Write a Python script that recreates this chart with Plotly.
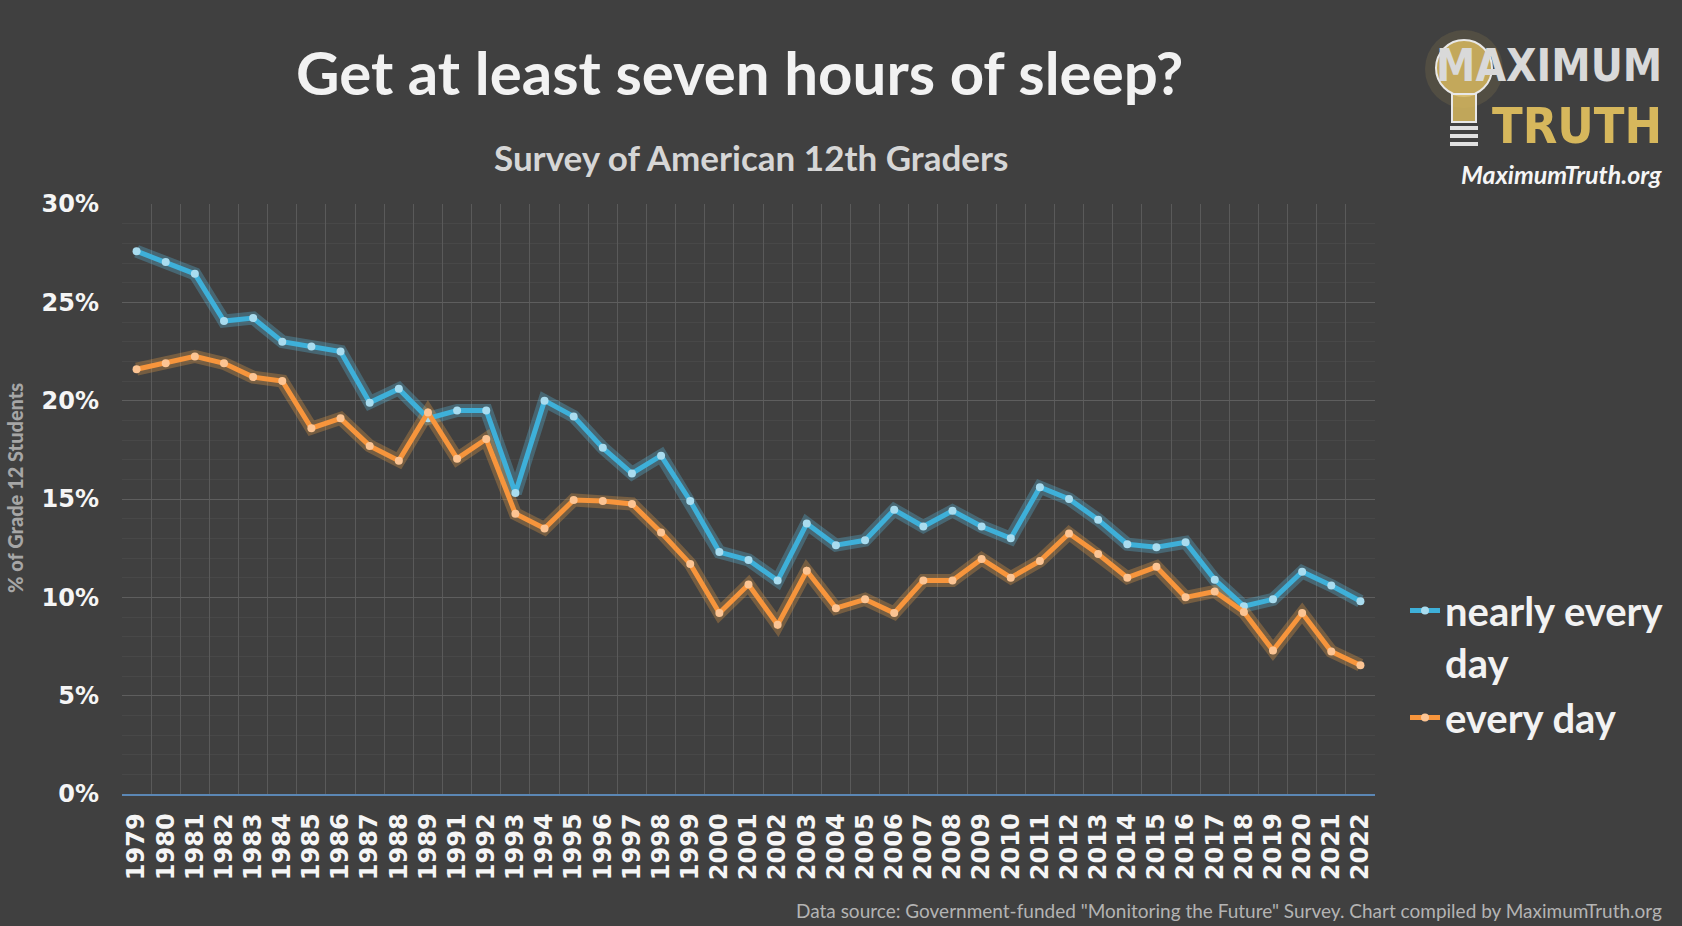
import plotly.graph_objects as go

years = ["1979", "1980", "1981", "1982", "1983", "1984", "1985", "1986", "1987", "1988", "1989",
         "1991", "1992", "1993", "1994", "1995", "1996", "1997", "1998", "1999",
         "2000", "2001", "2002", "2003", "2004", "2005", "2006", "2007", "2008", "2009",
         "2010", "2011", "2012", "2013", "2014", "2015", "2016", "2017", "2018", "2019",
         "2020", "2021", "2022"]

nearly_every_day = [27.6, 27.05, 26.45, 24.05, 24.2, 23.0, 22.75, 22.5, 19.9, 20.6, 19.1,
                    19.5, 19.5, 15.3, 20.0, 19.2, 17.6, 16.3, 17.2, 14.9,
                    12.3, 11.9, 10.85, 13.75, 12.65, 12.9, 14.45, 13.6, 14.4, 13.6,
                    13.0, 15.6, 15.0, 13.95, 12.7, 12.55, 12.8, 10.9, 9.55, 9.9,
                    11.3, 10.6, 9.8]

every_day = [21.6, 21.9, 22.25, 21.9, 21.2, 21.0, 18.6, 19.1, 17.7, 16.95, 19.4,
             17.05, 18.05, 14.25, 13.5, 14.95, 14.9, 14.75, 13.3, 11.7,
             9.2, 10.65, 8.6, 11.35, 9.45, 9.9, 9.2, 10.85, 10.85, 11.95,
             11.0, 11.85, 13.25, 12.2, 11.0, 11.55, 10.0, 10.3, 9.25, 7.3,
             9.2, 7.25, 6.55]

series_names = ["nearly every<br>day", "every day"]
y_ticks = [0, 5, 10, 15, 20, 25, 30]
y_tick_labels = ["0%", "5%", "10%", "15%", "20%", "25%", "30%"]

BG = "#404040"
BLUE = "#3eb0d9"
BLUE_GLOW = "rgba(90,200,245,0.28)"
BLUE_MK = "#a9dcef"
ORANGE = "#f7953c"
ORANGE_GLOW = "rgba(255,170,70,0.28)"
ORANGE_MK = "#fcc493"

W, H = 1682, 926
L, R, T, B = 122, 1375, 204, 794


def px(x):
    return (x - L) / (R - L)


def py(y):
    return (B - y) / (B - T)


fig = go.Figure()

for vals, glow in [(nearly_every_day, BLUE_GLOW), (every_day, ORANGE_GLOW)]:
    fig.add_trace(go.Scatter(x=years, y=vals, mode="lines", showlegend=False, hoverinfo="skip",
                             line=dict(color=glow, width=13)))

fig.add_trace(go.Scatter(x=years, y=nearly_every_day, mode="lines+markers", name=series_names[0],
                         line=dict(color=BLUE, width=5),
                         marker=dict(size=8, color=BLUE_MK, line=dict(width=0))))
fig.add_trace(go.Scatter(x=years, y=every_day, mode="lines+markers", name=series_names[1],
                         line=dict(color=ORANGE, width=5),
                         marker=dict(size=8, color=ORANGE_MK, line=dict(width=0))))

annotations = [
    dict(text="Get at least seven hours of sleep?", x=px(739), y=py(72), xref="paper", yref="paper",
         xanchor="center", yanchor="middle", showarrow=False,
         font=dict(family="Lato", size=60, color="#f2f2f2", weight="bold")),
    dict(text="Survey of American 12th Graders", x=px(751), y=py(157), xref="paper", yref="paper",
         xanchor="center", yanchor="middle", showarrow=False,
         font=dict(family="Lato", size=35, color="#d6d6d6", weight="bold")),
    dict(text="% of Grade 12 Students", x=px(15), y=py(488), xref="paper", yref="paper",
         xanchor="center", yanchor="middle", showarrow=False, textangle=-90,
         font=dict(family="Lato", size=20, color="#a6a6a6", weight=900)),
    dict(text='Data source: Government-funded "Monitoring the Future" Survey. Chart compiled by MaximumTruth.org',
         x=px(1664), y=py(910), xref="paper", yref="paper", xanchor="right", yanchor="middle",
         showarrow=False, font=dict(family="Lato", size=19, color="#b4b4b4")),
    dict(text="MAXIMUM", x=px(1664), y=py(66), xref="paper", yref="paper", xanchor="right",
         yanchor="middle", showarrow=False,
         font=dict(family="DejaVu Sans Condensed", size=44, color="#d9d9d9", weight="bold")),
    dict(text="TRUTH", x=px(1664), y=py(126), xref="paper", yref="paper", xanchor="right",
         yanchor="middle", showarrow=False,
         font=dict(family="DejaVu Sans Condensed", size=50, color="#d6b75c", weight="bold")),
    dict(text="<i>MaximumTruth.org</i>", x=px(1664), y=py(174), xref="paper", yref="paper",
         xanchor="right", yanchor="middle", showarrow=False,
         font=dict(family="Lato", size=25, color="#f5f5f5", weight="bold")),
]

shapes = [
    dict(type="circle", xref="paper", yref="paper", x0=px(1425), x1=px(1503), y0=py(30), y1=py(108),
         fillcolor="rgba(215,185,90,0.12)", line=dict(width=0), layer="below"),
    dict(type="circle", xref="paper", yref="paper", x0=px(1436), x1=px(1492), y0=py(40), y1=py(96),
         fillcolor="rgba(215,185,95,0.85)", line=dict(color="#e8e8e8", width=2), layer="below"),
    dict(type="rect", xref="paper", yref="paper", x0=px(1452), x1=px(1476), y0=py(94), y1=py(122),
         fillcolor="rgba(215,185,95,0.85)", line=dict(color="#e8e8e8", width=2), layer="below"),
]
for yy in (128, 136, 144):
    shapes.append(dict(type="line", xref="paper", yref="paper", x0=px(1450), x1=px(1478),
                       y0=py(yy), y1=py(yy), line=dict(color="#e0e0e0", width=4)))

fig.update_layout(
    width=W, height=H,
    paper_bgcolor=BG, plot_bgcolor=BG,
    margin=dict(l=L, r=W - R, t=T, b=H - B),
    annotations=annotations,
    shapes=shapes,
    showlegend=True,
    legend=dict(x=px(1405), y=py(578), xanchor="left", yanchor="top", valign="top",
                font=dict(family="Lato", size=40, color="#f2f2f2", weight="bold"),
                bgcolor="rgba(0,0,0,0)", itemwidth=30, tracegroupgap=0),
    xaxis=dict(type="category", range=[-0.5, len(years) - 0.5], tickson="boundaries",
               tickmode="array", tickvals=years, ticktext=years,
               showgrid=True, gridcolor="#5a5a5a", gridwidth=1,
               tickangle=-90, ticks="", ticklabelstandoff=8,
               tickfont=dict(family="DejaVu Sans", size=24, color="#f5f5f5", weight="bold"),
               showline=True, linecolor="#5b87b5", linewidth=1.5, zeroline=False),
    yaxis=dict(range=[0, 30], tickmode="array", tickvals=y_ticks, ticktext=y_tick_labels,
               showgrid=True, gridcolor="#5e5e5e", gridwidth=1, zeroline=False,
               minor=dict(dtick=1, showgrid=True, gridcolor="#484848", gridwidth=1),
               ticks="", ticklabelstandoff=22,
               tickfont=dict(family="DejaVu Sans", size=24, color="#f5f5f5", weight="bold")),
)

fig.write_html("out.html")
